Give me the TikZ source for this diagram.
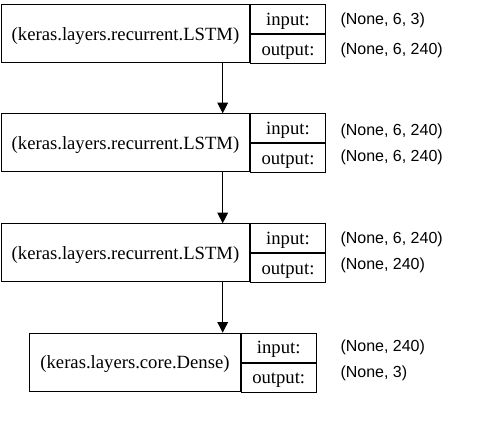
\documentclass[tikz,border=0pt]{standalone}
\usepackage{fontspec}
\setmainfont{Liberation Serif}
\newfontfamily\shapefont{Liberation Sans}
\usetikzlibrary{arrows.meta}

\tikzset{every picture/.style={line width=0.75pt}}
\tikzset{
layerbox/.style={draw, minimum height=43.5pt, inner sep=0.75pt, text height=11.5pt, text depth=2pt, font=\fontsize{14}{16}\selectfont},
portbox/.style={draw, minimum width=56.25pt, minimum height=21.75pt, inner sep=0.75pt, text height=11pt, text depth=2pt, font=\fontsize{14}{16}\selectfont},
shapelbl/.style={anchor=west, inner sep=0pt, font=\shapefont\fontsize{12}{14}\selectfont},
flow/.style={-{Triangle[length=8pt,width=8pt]}}}

\begin{document}
\begin{tikzpicture}[x=0.75pt,y=0.75pt,yscale=-1,xscale=1]
\useasboundingbox (0,0) rectangle (483,448);

%Layer: LSTM 1
\node[layerbox, minimum width=186pt, anchor=north west] (lstmA) at (1,4.5) {(keras.layers.recurrent.LSTM)};
\node[portbox, anchor=north west] (inA) at (lstmA.north east) {input:};
\node[portbox, anchor=north west] (outA) at (inA.south west) {output:};
%Layer: LSTM 2
\node[layerbox, minimum width=186pt, anchor=north west] (lstmB) at (1,113.3) {(keras.layers.recurrent.LSTM)};
\node[portbox, anchor=north west] (inB) at (lstmB.north east) {input:};
\node[portbox, anchor=north west] (outB) at (inB.south west) {output:};
%Layer: LSTM 3
\node[layerbox, minimum width=186pt, anchor=north west] (lstmC) at (1,223.3) {(keras.layers.recurrent.LSTM)};
\node[portbox, anchor=north west] (inC) at (lstmC.north east) {input:};
\node[portbox, anchor=north west] (outC) at (inC.south west) {output:};
%Layer: Dense
\node[layerbox, minimum width=157.8pt, anchor=north west] (denseD) at (29.3,332.7) {(keras.layers.core.Dense)};
\node[portbox, anchor=north west] (inD) at (denseD.north east) {input:};
\node[portbox, anchor=north west] (outD) at (inD.south west) {output:};

% Text Node
\node[shapelbl] (shpInA) at (340,20) {(None, 6, 3)};
\node[shapelbl] (shpOutA) at (340,50) {(None, 6, 240)};
\node[shapelbl] (shpInB) at (340,131) {(None, 6, 240)};
\node[shapelbl] (shpOutB) at (340,157) {(None, 6, 240)};
\node[shapelbl] (shpInC) at (340,239) {(None, 6, 240)};
\node[shapelbl] (shpOutC) at (340,265) {(None, 240)};
\node[shapelbl] (shpInD) at (340,347) {(None, 240)};
\node[shapelbl] (shpOutD) at (340,373) {(None, 3)};

%Arrows
\coordinate (ax) at (222.7,0);
\draw[flow] (lstmA.south -| ax) -- (lstmB.north -| ax);
\draw[flow] (lstmB.south -| ax) -- (lstmC.north -| ax);
\draw[flow] (lstmC.south -| ax) -- (denseD.north -| ax);

\end{tikzpicture}
\end{document}
